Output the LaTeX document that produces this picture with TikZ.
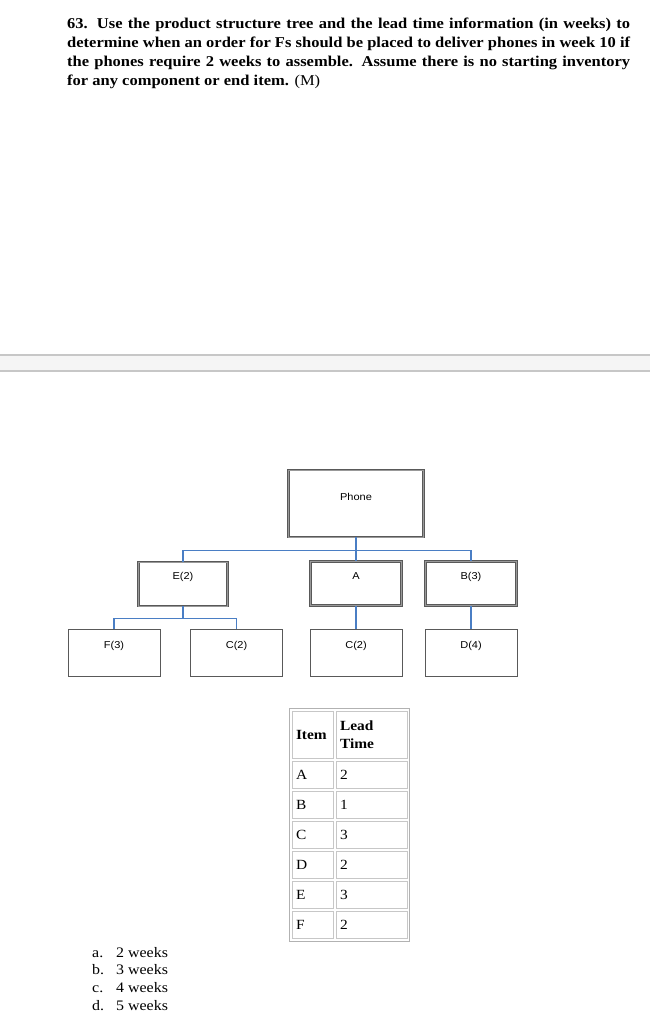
\documentclass[tikz,border=0pt]{standalone}
\usepackage{fontspec}
\setmainfont{Liberation Serif}[FakeStretch=1.1]
\setsansfont{Liberation Sans}[FakeStretch=1.1]
\definecolor{azulliga}{RGB}{74,126,196}
\begin{document}
\begin{tikzpicture}[x=1pt,y=-1pt,
    caixa/.style={draw=black!65, line width=0.9pt, double=black!40, double distance=0.8pt,
        minimum width=#1, minimum height=44pt, inner sep=0pt,
        font=\sffamily\fontsize{10}{12}\selectfont, text height=7pt, text depth=16pt},
    folha/.style={draw=black!65, line width=0.9pt, minimum width=92pt, minimum height=47pt,
        inner sep=0pt, font=\sffamily\fontsize{10}{12}\selectfont, text height=7pt, text depth=16pt},
    liga/.style={draw=azulliga, line width=1.1pt},
    cel/.style={draw=black!22, line width=0.8pt, inner sep=4pt, minimum height=27pt,
        font=\fontsize{14}{18}\selectfont, align=left}]
    %Moldura
    \useasboundingbox (0,0) rectangle (650,1024);
    %Enunciado
    \node[anchor=north west, inner sep=0pt, text width=563pt, align=justify,
        font=\bfseries\fontsize{15}{19}\selectfont] (enunciado) at (67,18)
        {63. Use the product structure tree and the lead time information (in weeks) to\linebreak
         determine when an order for Fs should be placed to deliver phones in week 10 if\linebreak
         the phones require 2 weeks to assemble. Assume there is no starting inventory\linebreak
         for any component or end item. {\mdseries(M)}};
    %Faixa cinza
    \fill[black!4] (0,355) rectangle (650,371);
    \draw[black!22, line width=2pt] (0,355) -- (650,355);
    \draw[black!22, line width=2pt] (0,371) -- (650,371);
        %Arvore
    \node[caixa=135pt, minimum height=67pt, text depth=14pt] (phone) at (356,503.5) {Phone};
    \node[caixa=89pt] (e) at (183,584) {E(2)};
    \node[caixa=91pt] (a) at (356,583.5) {A};
    \node[caixa=91pt] (b) at (471,583.5) {B(3)};
    \node[folha] (f) at (114,653) {F(3)};
    \node[folha] (c1) at (236.5,653) {C(2)};
    \node[folha] (c2) at (356,653) {C(2)};
    \node[folha] (d) at (471,653) {D(4)};
        %Ligacoes
    \draw[liga] (phone.south) -- (a.north);
    \draw[liga] (e.north) -- ++(0,-11.2) -| (b.north);
    \draw[liga] (e.south) -- ++(0,11.5);
    \draw[liga] (f.north) -- ++(0,-11) -| (c1.north);
    \draw[liga] (a.south) -- (c2.north);
    \draw[liga] (b.south) -- (d.north);
        %Tabela
    \draw[black!30, line width=0.8pt] (289,708) rectangle (409,941);
    \node[cel, minimum height=47pt, text width=33pt, font=\bfseries\fontsize{14}{18}\selectfont] (hitem) at (312.5,734.5) {Item};
    \node[cel, minimum height=47pt, text width=63pt, font=\bfseries\fontsize{14}{18}\selectfont] (hlead) at (371.5,734.5) {Lead\\Time};
    \foreach \letra/\valor [count=\i] in {A/2,B/1,C/3,D/2,E/3,F/2}{
        \node[cel, text width=33pt] (item\i) at (312.5,744.5+30*\i) {\letra};
        \node[cel, text width=63pt] (lead\i) at (371.5,744.5+30*\i) {\valor};
    }
        %Alternativas
    \foreach \op/\sem [count=\i] in {a/2,b/3,c/4,d/5}{
        \node[anchor=base west, inner sep=0pt, font=\fontsize{14.5}{17}\selectfont] (op\i) at (92,939.5+17.7*\i) {\op.};
        \node[anchor=base west, inner sep=0pt, font=\fontsize{14.5}{17}\selectfont] (resp\i) at (116,939.5+17.7*\i) {\sem\ weeks};
    }
\end{tikzpicture}
\end{document}
